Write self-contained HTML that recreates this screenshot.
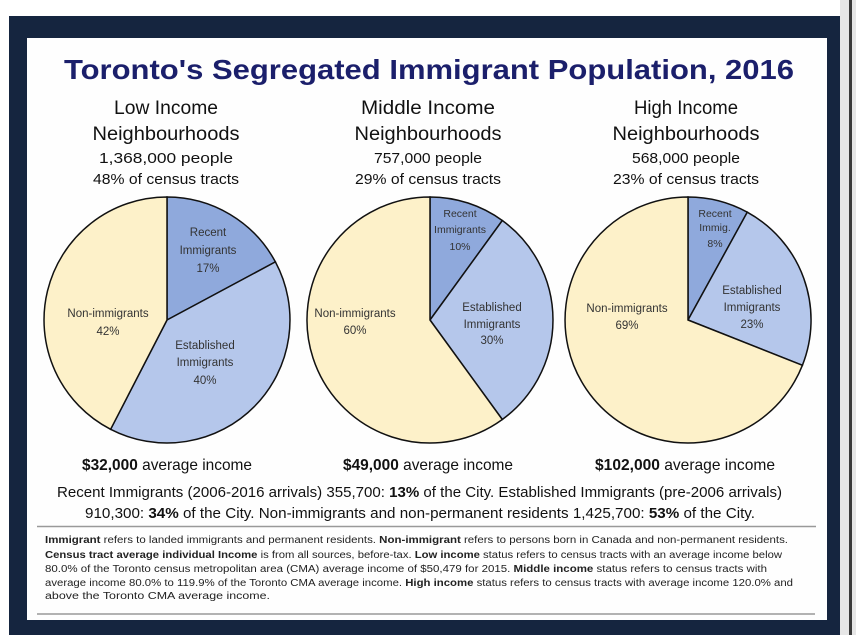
<!DOCTYPE html>
<html><head><meta charset="utf-8"><style>
html,body{margin:0;padding:0;background:#fff;}
svg{display:block;}
text{font-family:"Liberation Sans",sans-serif;}
</style></head><body>
<svg width="856" height="635" viewBox="0 0 856 635" xmlns="http://www.w3.org/2000/svg">
<rect x="0" y="0" width="856" height="635" fill="#fff"/>
<rect x="9" y="16" width="831" height="619" fill="#15253f"/>
<rect x="840" y="0" width="16" height="635" fill="#e6e6e6"/>
<rect x="849" y="0" width="3" height="635" fill="#3a3a3a"/>
<rect x="27" y="38" width="800" height="582" fill="#fefefe"/>
<g stroke="#111" stroke-width="1.5">
<path d="M167,320 L167,197 A123,123 0 0 1 275.4,261.9 Z" fill="#8fa9dc"/>
<path d="M167,320 L275.4,261.9 A123,123 0 0 1 110.6,429.3 Z" fill="#b5c7eb"/>
<path d="M167,320 L110.6,429.3 A123,123 0 0 1 167,197 Z" fill="#fdf1c9"/>
<path d="M430,320 L430,197 A123,123 0 0 1 502.3,220.5 Z" fill="#8fa9dc"/>
<path d="M430,320 L502.3,220.5 A123,123 0 0 1 502.3,419.5 Z" fill="#b5c7eb"/>
<path d="M430,320 L502.3,419.5 A123,123 0 1 1 430,197 Z" fill="#fdf1c9"/>
<path d="M688,320 L688,197 A123,123 0 0 1 747.3,212.2 Z" fill="#8fa9dc"/>
<path d="M688,320 L747.3,212.2 A123,123 0 0 1 802.4,365.3 Z" fill="#b5c7eb"/>
<path d="M688,320 L802.4,365.3 A123,123 0 1 1 688,197 Z" fill="#fdf1c9"/>
</g>
<text x="429" y="79" font-size="28" font-weight="bold" fill="#1b1f6b" text-anchor="middle" textLength="730" lengthAdjust="spacingAndGlyphs">Toronto's Segregated Immigrant Population, 2016</text>
<g font-size="19" fill="#111" text-anchor="middle">
<text x="166" y="114" textLength="104" lengthAdjust="spacingAndGlyphs">Low Income</text>
<text x="166" y="140" textLength="147" lengthAdjust="spacingAndGlyphs">Neighbourhoods</text>
<text x="428" y="114" textLength="134" lengthAdjust="spacingAndGlyphs">Middle Income</text>
<text x="428" y="140" textLength="147" lengthAdjust="spacingAndGlyphs">Neighbourhoods</text>
<text x="686" y="114" textLength="104" lengthAdjust="spacingAndGlyphs">High Income</text>
<text x="686" y="140" textLength="147" lengthAdjust="spacingAndGlyphs">Neighbourhoods</text>
</g>
<g font-size="15" fill="#111" text-anchor="middle">
<text x="166" y="163" textLength="134" lengthAdjust="spacingAndGlyphs">1,368,000 people</text>
<text x="166" y="184" textLength="146" lengthAdjust="spacingAndGlyphs">48% of census tracts</text>
<text x="428" y="163" textLength="108" lengthAdjust="spacingAndGlyphs">757,000 people</text>
<text x="428" y="184" textLength="146" lengthAdjust="spacingAndGlyphs">29% of census tracts</text>
<text x="686" y="163" textLength="108" lengthAdjust="spacingAndGlyphs">568,000 people</text>
<text x="686" y="184" textLength="146" lengthAdjust="spacingAndGlyphs">23% of census tracts</text>
</g>
<g font-size="11.5" fill="#333" text-anchor="middle">
<text x="208" y="236">Recent</text><text x="208" y="254">Immigrants</text><text x="208" y="272">17%</text>
<text x="108" y="317">Non-immigrants</text><text x="108" y="335">42%</text>
<text x="205" y="349">Established</text><text x="205" y="366">Immigrants</text><text x="205" y="384">40%</text>
<text x="460" y="217" font-size="10.5">Recent</text><text x="460" y="233" font-size="10.5">Immigrants</text><text x="460" y="250" font-size="10.5">10%</text>
<text x="355" y="317">Non-immigrants</text><text x="355" y="334">60%</text>
<text x="492" y="311">Established</text><text x="492" y="328">Immigrants</text><text x="492" y="344">30%</text>
<text x="715" y="217" font-size="10.5">Recent</text><text x="715" y="231" font-size="10.5">Immig.</text><text x="715" y="247" font-size="10.5">8%</text>
<text x="752" y="294">Established</text><text x="752" y="311">Immigrants</text><text x="752" y="328">23%</text>
<text x="627" y="312">Non-immigrants</text><text x="627" y="329">69%</text>
</g>
<g font-size="16" fill="#111">
<text x="82" y="470" textLength="170" lengthAdjust="spacingAndGlyphs"><tspan font-weight="bold">$32,000</tspan> average income</text>
<text x="343" y="470" textLength="170" lengthAdjust="spacingAndGlyphs"><tspan font-weight="bold">$49,000</tspan> average income</text>
<text x="595" y="470" textLength="180" lengthAdjust="spacingAndGlyphs"><tspan font-weight="bold">$102,000</tspan> average income</text>
</g>
<g font-size="15" fill="#111">
<text x="57" y="497" textLength="725" lengthAdjust="spacingAndGlyphs">Recent Immigrants (2006-2016 arrivals) 355,700: <tspan font-weight="bold">13%</tspan> of the City. Established Immigrants (pre-2006 arrivals)</text>
<text x="85" y="518" textLength="670" lengthAdjust="spacingAndGlyphs">910,300: <tspan font-weight="bold">34%</tspan> of the City. Non-immigrants and non-permanent residents 1,425,700: <tspan font-weight="bold">53%</tspan> of the City.</text>
</g>
<line x1="37" y1="526.5" x2="816" y2="526.5" stroke="#999" stroke-width="1.5"/>
<g font-size="10" fill="#222">
<text x="45" y="543" textLength="743" lengthAdjust="spacingAndGlyphs"><tspan font-weight="bold">Immigrant</tspan> refers to landed immigrants and permanent residents. <tspan font-weight="bold">Non-immigrant</tspan> refers to persons born in Canada and non-permanent residents.</text>
<text x="45" y="558" textLength="737" lengthAdjust="spacingAndGlyphs"><tspan font-weight="bold">Census tract average individual Income</tspan> is from all sources, before-tax. <tspan font-weight="bold">Low income</tspan> status refers to census tracts with an average income below</text>
<text x="45" y="572" textLength="722" lengthAdjust="spacingAndGlyphs">80.0% of the Toronto census metropolitan area (CMA) average income of $50,479 for 2015. <tspan font-weight="bold">Middle income</tspan> status refers to census tracts with</text>
<text x="45" y="586" textLength="748" lengthAdjust="spacingAndGlyphs">average income 80.0% to 119.9% of the Toronto CMA average income. <tspan font-weight="bold">High income</tspan> status refers to census tracts with average income 120.0% and</text>
<text x="45" y="599" textLength="225" lengthAdjust="spacingAndGlyphs">above the Toronto CMA average income.</text>
</g>
<line x1="37" y1="614" x2="815" y2="614" stroke="#999" stroke-width="1.5"/>
</svg>
</body></html>
